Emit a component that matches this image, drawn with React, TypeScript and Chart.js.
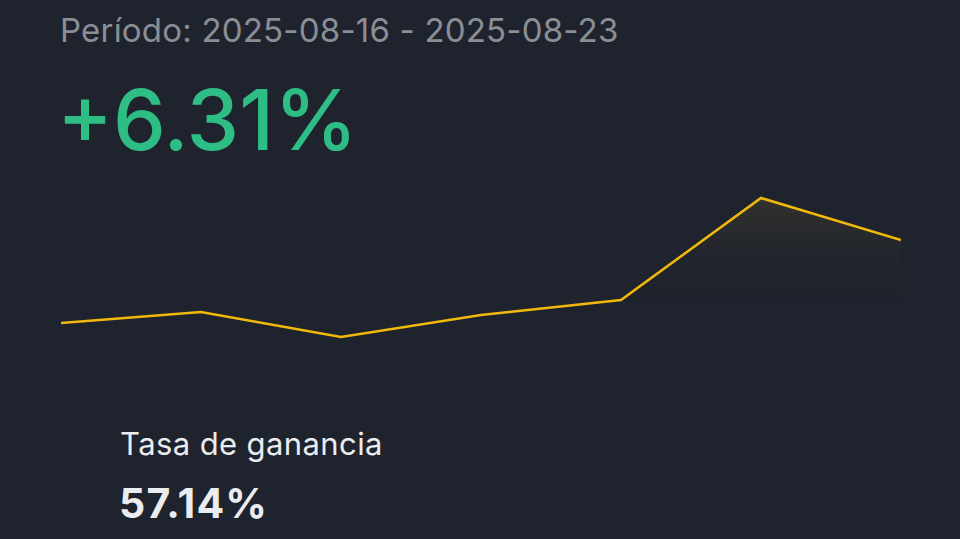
import React, { useEffect, useRef } from "react";
import { Chart, registerables } from "chart.js";

Chart.register(...registerables);

const dates = ["2025-08-16", "2025-08-17", "2025-08-18", "2025-08-19", "2025-08-20", "2025-08-21", "2025-08-22"];
const pnlValues = [17, 28, 3, 25, 40, 142, 100];
const periodLabel = "Período: 2025-08-16 - 2025-08-23";
const totalReturn = "+6.31%";
const winRateLabel = "Tasa de ganancia";
const winRate = "57.14%";

const BG = "#1f232d";

export default function App() {
  const ref = useRef<HTMLCanvasElement>(null);
  useEffect(() => {
    document.body.style.margin = "0";
    document.body.style.background = BG;
    const ctx = ref.current!.getContext("2d")!;
    const chart = new Chart(ctx, {
      type: "line",
      data: {
        labels: dates,
        datasets: [
          {
            data: pnlValues,
            borderColor: "#f0b90b",
            borderWidth: 2.5,
            pointRadius: 0,
            tension: 0,
            fill: "start",
            backgroundColor: (c: any) => {
              const area = c.chart.chartArea;
              if (!area) return "rgba(0,0,0,0)";
              const g = c.chart.ctx.createLinearGradient(0, area.top, 0, area.top + 112);
              g.addColorStop(0, "rgba(60,57,46,0.8)");
              g.addColorStop(1, "rgba(31,35,45,0)");
              return g;
            },
          },
        ],
      },
      options: {
        animation: false,
        responsive: false,
        maintainAspectRatio: false,
        layout: { padding: 0 },
        plugins: { legend: { display: false }, tooltip: { enabled: false } },
        scales: {
          x: { display: false, offset: false },
          y: { display: false, min: 0, max: 150 },
        },
      },
    });
    return () => chart.destroy();
  }, []);

  return (
    <div style={{ position: "fixed", left: 0, top: 0, width: 960, height: 539, background: BG, overflow: "hidden", fontFamily: "Inter, 'Noto Sans', sans-serif" }}>
      <div style={{ position: "absolute", left: 60, top: 10, fontSize: 33, letterSpacing: 0.2, color: "#8b8e95", whiteSpace: "nowrap", lineHeight: "40px" }}>{periodLabel}</div>
      <div style={{ position: "absolute", left: 57, top: 70, fontSize: 84, fontWeight: 500, color: "#2ebd85", whiteSpace: "nowrap", lineHeight: "100px" }}>{totalReturn}</div>
      <canvas ref={ref} width={840} height={150} style={{ position: "absolute", left: 61, top: 190, width: 840, height: 150 }} />
      <div style={{ position: "absolute", left: 120, top: 424, fontSize: 31, letterSpacing: 0.4, color: "#eaecef", whiteSpace: "nowrap", lineHeight: "40px" }}>{winRateLabel}</div>
      <div style={{ position: "absolute", left: 119, top: 478, fontSize: 41, fontWeight: 700, letterSpacing: 1.2, color: "#eaecef", whiteSpace: "nowrap", lineHeight: "50px" }}>{winRate}</div>
    </div>
  );
}
